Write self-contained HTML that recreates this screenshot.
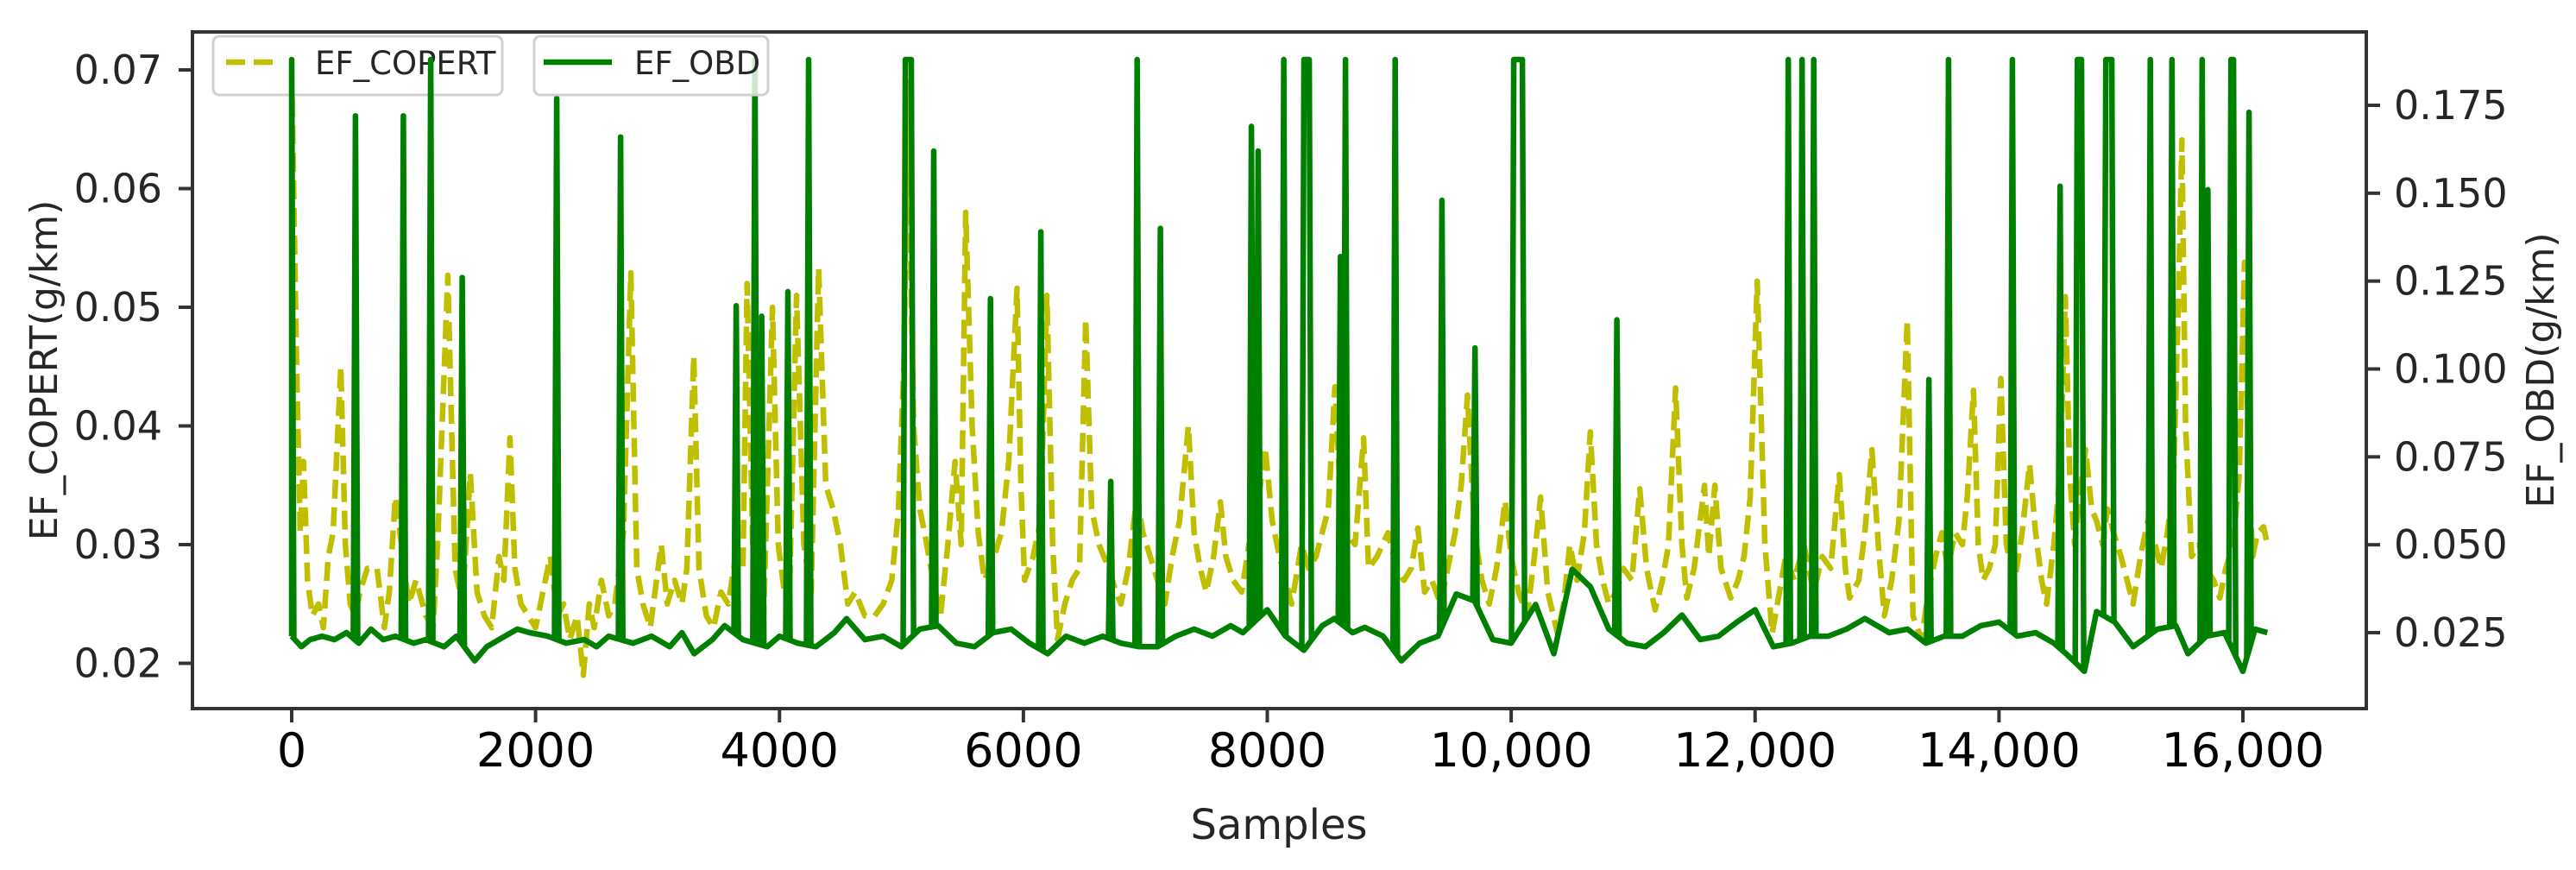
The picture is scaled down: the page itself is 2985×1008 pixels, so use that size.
<!DOCTYPE html>
<html><head><meta charset="utf-8">
<style>
html,body{margin:0;padding:0;background:#fff;}
svg{display:block;font-family:"DejaVu Sans","Liberation Sans",sans-serif;}
</style></head>
<body>
<svg id="chart" width="2985" height="1008" viewBox="0 0 2985 1008" xmlns="http://www.w3.org/2000/svg">
<rect x="0" y="0" width="2985" height="1008" fill="#fff"/>
<g id="plot"></g>
</svg>
<script>
// ---- data ----
const xTicks = [0,2000,4000,6000,8000,10000,12000,14000,16000];
const xTickLabels = ["0","2000","4000","6000","8000","10,000","12,000","14,000","16,000"];
const leftTicks = [0.02,0.03,0.04,0.05,0.06,0.07];
const leftTickLabels = ["0.02","0.03","0.04","0.05","0.06","0.07"];
const rightTicks = [0.025,0.05,0.075,0.1,0.125,0.15,0.175];
const rightTickLabels = ["0.025","0.050","0.075","0.100","0.125","0.150","0.175"];

const copertSamples = [
0,40,70,97,130,170,220,260,300,340,403,440,480,520,560,620,700,760,800,850,900,960,1020,1100,1160,1200,1280,1340,1400,1465,
1520,1580,1640,1700,1740,1790,1830,1880,1940,2000,2060,2120,2180,2230,2280,2340,2391,2440,2480,2540,2600,2650,2720,2781,2830,2880,2940,3030,3080,3140,
3200,3240,3297,3340,3400,3460,3520,3580,3640,3700,3734,3780,3820,3870,3942,3990,4040,4080,4140,4200,4260,4321,4380,4440,4500,4560,4620,4700,4780,4850,
4920,4975,5020,5050,5100,5150,5190,5260,5320,5380,5440,5490,5527,5580,5630,5680,5760,5820,5880,5948,5980,6010,6080,6140,6193,6240,6280,6340,6400,6460,
6511,6560,6620,6700,6760,6800,6860,6930,6980,7040,7100,7160,7220,7280,7353,7400,7450,7500,7560,7615,7660,7720,7790,7850,7920,7982,8040,8100,8200,8280,
8340,8400,8450,8500,8555,8600,8650,8720,8790,8830,8900,8990,9060,9120,9180,9235,9290,9350,9420,9480,9540,9590,9642,9700,9760,9820,9880,9950,10000,10060,
10130,10190,10241,10300,10380,10430,10480,10540,10600,10649,10700,10750,10800,10860,10920,10990,11054,11110,11180,11240,11290,11348,11400,11440,11500,11585,11620,11670,11720,11800,
11860,11910,11960,12017,12080,12140,12200,12250,12320,12400,12480,12550,12620,12690,12740,12775,12850,12900,12958,13010,13060,13120,13180,13248,13295,13365,13420,13480,13531,13580,
13640,13700,13740,13791,13830,13870,13920,13970,14015,14060,14130,14190,14251,14300,14350,14390,14450,14500,14544,14580,14620,14660,14710,14760,14800,14850,14890,14940,15000,15050,
15100,15160,15220,15280,15330,15380,15430,15470,15500,15530,15580,15640,15700,15760,15810,15860,15920,15970,16013,16050,16080,16120,16170,16200];
const copertValues = [
0.070,0.045,0.031,0.037,0.027,0.024,0.025,0.023,0.029,0.031,0.045,0.030,0.025,0.024,0.026,0.028,0.028,0.023,0.026,0.034,0.030,0.025,0.027,0.024,0.023,0.031,0.0527,0.028,0.025,0.036,
0.026,0.024,0.023,0.029,0.027,0.039,0.028,0.025,0.024,0.023,0.026,0.029,0.024,0.025,0.022,0.024,0.019,0.025,0.023,0.027,0.024,0.025,0.031,0.0529,0.028,0.025,0.023,0.030,0.025,0.027,
0.025,0.028,0.0459,0.028,0.024,0.023,0.026,0.025,0.029,0.028,0.052,0.030,0.026,0.024,0.050,0.030,0.026,0.025,0.051,0.030,0.026,0.0533,0.035,0.033,0.030,0.025,0.026,0.024,0.024,0.025,
0.027,0.0328,0.045,0.069,0.040,0.033,0.031,0.027,0.024,0.030,0.037,0.030,0.058,0.040,0.031,0.027,0.029,0.031,0.037,0.0516,0.035,0.027,0.029,0.032,0.051,0.030,0.022,0.025,0.027,0.028,
0.049,0.033,0.030,0.028,0.026,0.025,0.028,0.034,0.031,0.029,0.027,0.025,0.029,0.032,0.040,0.031,0.028,0.026,0.029,0.0336,0.029,0.027,0.026,0.030,0.033,0.0382,0.032,0.029,0.025,0.030,
0.028,0.029,0.031,0.033,0.0433,0.034,0.031,0.030,0.039,0.028,0.029,0.031,0.028,0.027,0.028,0.0314,0.026,0.027,0.025,0.028,0.031,0.035,0.0426,0.031,0.027,0.025,0.028,0.0337,0.029,0.026,
0.024,0.029,0.034,0.026,0.0225,0.025,0.030,0.027,0.031,0.0395,0.030,0.027,0.025,0.026,0.028,0.027,0.0347,0.028,0.0245,0.027,0.030,0.0432,0.030,0.0255,0.028,0.035,0.029,0.035,0.028,0.0255,
0.027,0.029,0.034,0.0522,0.030,0.0225,0.026,0.029,0.027,0.030,0.026,0.029,0.028,0.0359,0.028,0.0255,0.027,0.031,0.038,0.030,0.024,0.027,0.032,0.0489,0.024,0.022,0.026,0.029,0.031,0.028,
0.031,0.030,0.034,0.043,0.030,0.027,0.028,0.030,0.044,0.030,0.027,0.031,0.0368,0.031,0.027,0.025,0.030,0.036,0.0509,0.036,0.030,0.034,0.038,0.033,0.032,0.030,0.033,0.031,0.029,0.027,
0.025,0.029,0.032,0.030,0.028,0.031,0.035,0.050,0.0641,0.040,0.029,0.030,0.028,0.027,0.0255,0.028,0.030,0.036,0.0538,0.035,0.029,0.031,0.0315,0.030];

const obdBaseSamples = [
0,80,150,250,350,450,550,650,750,850,1000,1100,1250,1350,1500,1600,1700,1850,1950,2100,2250,2400,2500,2600,2800,2950,3100,3200,3300,3450,
3550,3700,3900,4000,4150,4300,4450,4550,4700,4850,5000,5150,5300,5450,5600,5750,5900,6050,6200,6350,6500,6650,6800,6950,7100,7250,7400,7550,7700,7800,
8000,8150,8300,8450,8550,8700,8800,8950,9100,9250,9400,9550,9700,9850,10000,10200,10350,10500,10650,10800,10950,11100,11250,11400,11550,11700,11850,12000,12150,12300,
12450,12600,12750,12900,13100,13250,13400,13550,13700,13850,14000,14150,14300,14450,14550,14700,14800,14950,15100,15300,15450,15550,15700,15850,16000,16100,16200];
const obdBaseValues = [
0.024,0.021,0.023,0.024,0.023,0.025,0.022,0.026,0.023,0.024,0.022,0.023,0.021,0.024,0.017,0.021,0.023,0.026,0.025,0.024,0.022,0.023,0.021,0.024,0.022,0.024,0.021,0.025,0.019,0.023,
0.027,0.023,0.021,0.024,0.022,0.021,0.025,0.029,0.023,0.024,0.021,0.026,0.027,0.022,0.021,0.025,0.026,0.022,0.019,0.024,0.022,0.024,0.022,0.021,0.021,0.024,0.026,0.024,0.027,0.025,
0.0315,0.024,0.020,0.027,0.029,0.025,0.0265,0.024,0.017,0.022,0.024,0.036,0.034,0.023,0.022,0.033,0.019,0.043,0.038,0.026,0.022,0.021,0.025,0.030,0.023,0.024,0.028,0.0315,0.021,0.022,
0.024,0.024,0.026,0.029,0.025,0.026,0.022,0.024,0.024,0.027,0.028,0.024,0.025,0.022,0.019,0.014,0.031,0.028,0.021,0.026,0.027,0.019,0.024,0.025,0.014,0.026,0.025];

const spikeStart = [0,523,916,1140,1398,2173,2697,3645,3799,3854,4069,4239,5032,5265,5730,6143,6716,6933,7123,7870,7925,8135,8301,8600,8641,9049,9432,9703,10021,10867,12272,12385,12481,13425,13586,14110,14501,14643,14876,15241,15418,15666,15713,15902,16050];
const spikeEnd   = [0,523,916,1140,1398,2173,2697,3645,3799,3854,4069,4239,5081,5265,5730,6143,6716,6933,7123,7870,7925,8135,8344,8600,8641,9049,9432,9703,10092,10867,12272,12385,12481,13425,13586,14110,14501,14677,14925,15241,15418,15666,15713,15923,16050];
const spikePeak  = [0.188,0.172,0.172,0.188,0.126,0.177,0.166,0.118,0.188,0.115,0.122,0.188,0.188,0.162,0.120,0.139,0.068,0.188,0.140,0.169,0.162,0.188,0.188,0.132,0.188,0.188,0.148,0.106,0.188,0.114,0.188,0.188,0.188,0.097,0.188,0.188,0.152,0.188,0.188,0.188,0.188,0.188,0.151,0.188,0.173];

// ---- scales ----
const AX = {l:223, r:2742, t:37, b:821};
function xs(s){ return 338 + (s-0)*(2599-338)/16000; }
function yl(v){ return 768.5 - (v-0.02)*(768.5-81)/0.05; }
function yr(v){ return 733 - (v-0.025)*(733-122)/0.15; }
function baseAt(s){
  for(let i=0;i<obdBaseSamples.length-1;i++){
    if(s>=obdBaseSamples[i] && s<=obdBaseSamples[i+1]){
      const t=(s-obdBaseSamples[i])/(obdBaseSamples[i+1]-obdBaseSamples[i]);
      return obdBaseValues[i]+t*(obdBaseValues[i+1]-obdBaseValues[i]);
    }
  }
  return obdBaseValues[obdBaseValues.length-1];
}

const NS="http://www.w3.org/2000/svg";
const plot=document.getElementById('plot');
function mk(tag,attrs,parent){const e=document.createElementNS(NS,tag);for(const k in attrs)e.setAttribute(k,attrs[k]);(parent||plot).appendChild(e);return e;}

const LW=6.5;
// clip
const defs=mk('defs',{});
const cp=mk('clipPath',{id:'clip'},defs);
mk('rect',{x:AX.l,y:AX.t,width:AX.r-AX.l,height:AX.b-AX.t},cp);

// COPERT series
let d='';
copertSamples.forEach((s,i)=>{d+=(i?'L':'M')+xs(s).toFixed(1)+' '+yl(copertValues[i]).toFixed(1);});
const cop=mk('path',{d:d,fill:'none',stroke:'#bfbf00','stroke-width':LW,'stroke-dasharray':'22 10','stroke-linejoin':'round','clip-path':'url(#clip)'});



// legend 1
const lg1=mk('g',{});


mk('rect',{x:247,y:42,width:335,height:68,rx:7,fill:'#fff','fill-opacity':0.8,stroke:'#d0d0d0','stroke-width':3},lg1);
mk('line',{x1:262,y1:72,x2:324,y2:72,stroke:'#bfbf00','stroke-width':LW,'stroke-dasharray':'22 10'},lg1);
const t1=mk('text',{x:365,y:86,'font-size':37,fill:'#262626'},lg1);t1.textContent='EF_COPERT';

// OBD baseline
d='';
obdBaseSamples.forEach((s,i)=>{d+=(i?'L':'M')+xs(s).toFixed(1)+' '+yr(obdBaseValues[i]).toFixed(1);});
const obd=mk('path',{d:d,fill:'none',stroke:'#008000','stroke-width':LW,'stroke-linejoin':'round','clip-path':'url(#clip)'});


spikeStart.forEach((s,i)=>{
  const e=spikeEnd[i];
  const a=Math.max(0,s-18), b=e+18;
  let p='M'+xs(a).toFixed(1)+' '+yr(baseAt(a)).toFixed(1)+'L'+xs(s).toFixed(1)+' '+yr(spikePeak[i]).toFixed(1);
  if(e!==s)p+='L'+xs(e).toFixed(1)+' '+yr(spikePeak[i]).toFixed(1);
  p+='L'+xs(b).toFixed(1)+' '+yr(baseAt(b)).toFixed(1);
  const sp=mk('path',{d:p,fill:'none',stroke:'#008000','stroke-width':LW,'stroke-linejoin':'round','clip-path':'url(#clip)'});
  
  
});

// legend 2
const lg2=mk('g',{});


mk('rect',{x:619,y:42,width:271,height:68,rx:7,fill:'#fff','fill-opacity':0.8,stroke:'#d0d0d0','stroke-width':3},lg2);
mk('line',{x1:630,y1:72,x2:709,y2:72,stroke:'#008000','stroke-width':LW},lg2);
const t2=mk('text',{x:735,y:86,'font-size':37,fill:'#262626'},lg2);t2.textContent='EF_OBD';

// frame
const fr=mk('rect',{x:AX.l,y:AX.t,width:AX.r-AX.l,height:AX.b-AX.t,fill:'none',stroke:'#333','stroke-width':4});



// x ticks
xTicks.forEach((v,i)=>{
  const x=xs(v);
  mk('line',{x1:x,y1:AX.b,x2:x,y2:AX.b+16,stroke:'#333','stroke-width':4});
  const t=mk('text',{x:x,y:888,'font-size':54,'text-anchor':'middle',fill:'#000'});
  t.textContent=xTickLabels[i];
  
  
});
// left ticks
leftTicks.forEach((v,i)=>{
  const y=yl(v);
  mk('line',{x1:AX.l-16,y1:y,x2:AX.l,y2:y,stroke:'#333','stroke-width':4});
  const t=mk('text',{x:188,y:y+16,'font-size':46,'text-anchor':'end',fill:'#262626'});
  t.textContent=leftTickLabels[i];
  
  
});
// right ticks
rightTicks.forEach((v,i)=>{
  const y=yr(v);
  mk('line',{x1:AX.r,y1:y,x2:AX.r+16,y2:y,stroke:'#333','stroke-width':4});
  const t=mk('text',{x:2774,y:y+16,'font-size':46,'text-anchor':'start',fill:'#262626'});
  t.textContent=rightTickLabels[i];
  
  
});
// axis titles
const xt=mk('text',{x:1482,y:972,'font-size':48,'text-anchor':'middle',fill:'#262626'});
xt.textContent='Samples';


const ylt=mk('text',{x:0,y:0,'font-size':44,'text-anchor':'middle',fill:'#262626',transform:'translate(66,429) rotate(-90)'});
ylt.textContent='EF_COPERT(g/km)';


const yrt=mk('text',{x:0,y:0,'font-size':44,'text-anchor':'middle',fill:'#262626',transform:'translate(2959,429) rotate(-90)'});
yrt.textContent='EF_OBD(g/km)';


</script>
</body></html>
